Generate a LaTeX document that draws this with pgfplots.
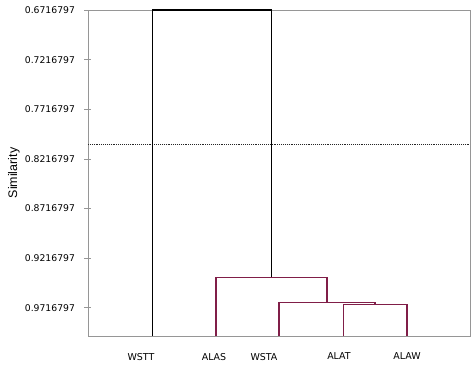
\documentclass[border=0pt]{standalone}
\usepackage{fontspec}
\setmainfont{DejaVu Sans}
\newfontfamily\arialfont{Liberation Sans}
\usepackage{pgfplots}
\pgfplotsset{compat=1.18}
\definecolor{clus}{RGB}{128,30,72}
\definecolor{frame}{RGB}{150,150,150}
\begin{document}
\begin{tikzpicture}
\begin{axis}[
  scale only axis,
  width=382bp, height=326bp,
  xmin=88, xmax=470,
  ymin=0.6716797, ymax=1.0,
  y dir=reverse,
  axis line style={frame, line width=0.9pt},
  xtick={141,214,264,339,407},
  xticklabels={WSTT,ALAS,WSTA,ALAT,ALAW},
  xticklabel style={font=\fontsize{9.5}{11}\selectfont, yshift=-10bp},
  x tick style={draw=none},
  ytick={0.6716797,0.7216797,0.7716797,0.8216797,0.8716797,0.9216797,0.9716797},
  yticklabels={0.6716797,0.7216797,0.7716797,0.8216797,0.8716797,0.9216797,0.9716797},
  yticklabel style={font=\fontsize{9.3}{11}\selectfont, xshift=-6bp},
  y tick style={frame, line width=0.8pt},
  tick align=center,
  major tick length=7bp,
  ytick pos=left,
  xtick pos=bottom,
  ylabel={\arialfont\fontsize{12.5}{14}\selectfont Similarity},
  every axis y label/.style={at={(axis description cs:0,0.5)}, xshift=-74bp, rotate=90, anchor=center},
  /pgf/number format/assume math mode=true,
  clip=false,
]
% dashed cut line
\addplot[black!85, line width=0.9pt, densely dotted] coordinates {(88,0.8066) (470,0.8066)};
% top link (black)
\addplot[black, line width=1.2pt] coordinates {(152.5,1.0) (152.5,0.6716797) (271.5,0.6716797) (271.5,0.9414)};
% purple cluster
\addplot[clus, line width=1.1pt] coordinates {(216,1.0) (216,0.9414) (327,0.9414) (327,0.9663)};
\addplot[clus, line width=1.1pt] coordinates {(279,1.0) (279,0.9663) (375,0.9663) (375,0.9686)};
\addplot[clus, line width=1.1pt] coordinates {(343.5,1.0) (343.5,0.9686) (407,0.9686) (407,1.0)};
\coordinate (bl) at (axis cs:88,1.0);
\coordinate (tr) at (axis cs:470,0.6716797);
\end{axis}
\pgfresetboundingbox
\path[use as bounding box] ([shift={(-88bp,-30bp)}]bl) rectangle ([shift={(4bp,10bp)}]tr);
\end{tikzpicture}
\end{document}
